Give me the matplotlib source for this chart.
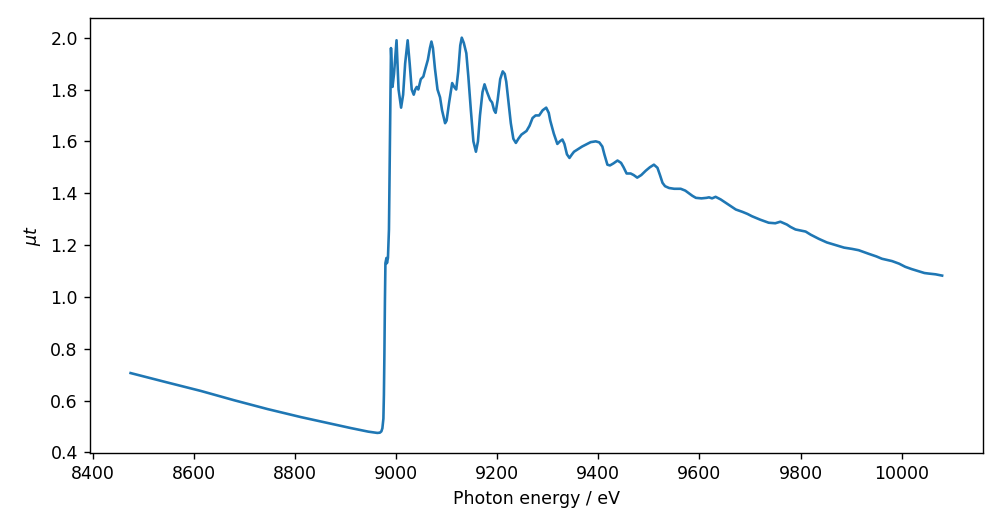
import matplotlib
matplotlib.use('Agg')
import matplotlib.pyplot as plt

# photon energy (eV) and absorbance (mu t)
energy = [
    8475, 8545, 8614, 8680, 8746, 8812, 8877, 8910, 8930, 8945, 8955, 8963,
    8968, 8971, 8973, 8975, 8976, 8977, 8978, 8979, 8981, 8982, 8984, 8986,
    8988, 8990, 8993, 8996, 9001, 9005, 9010, 9014, 9018, 9023, 9027, 9031,
    9035, 9038, 9041, 9044, 9049, 9054, 9058, 9063, 9067, 9070, 9073, 9077,
    9082, 9087, 9091, 9097, 9100, 9105, 9111, 9115, 9119, 9123, 9127, 9130,
    9134, 9139, 9143, 9148, 9153, 9158, 9162, 9166, 9171, 9175, 9180, 9186,
    9190, 9194, 9197, 9201, 9206, 9211, 9215, 9218, 9222, 9227, 9232, 9237,
    9242, 9248, 9258, 9264, 9270, 9276, 9283, 9290, 9297, 9302, 9305, 9312,
    9319, 9324, 9329, 9333, 9338, 9343, 9348, 9352, 9360, 9368, 9375, 9385,
    9395, 9402, 9408, 9412, 9418, 9423, 9430, 9438, 9445, 9450, 9456, 9464,
    9470, 9477, 9485, 9494, 9502, 9510, 9517, 9522, 9527, 9532, 9540, 9550,
    9563, 9572, 9579, 9586, 9593, 9604, 9614, 9619, 9625, 9632, 9642, 9652,
    9662, 9672, 9685, 9695, 9704, 9720, 9737, 9750, 9760, 9773, 9780, 9790,
    9800, 9810, 9820, 9836, 9852, 9869, 9886, 9902, 9915, 9935, 9950, 9961,
    9981, 9995, 10007, 10020, 10033, 10045, 10053, 10067, 10080,
]
mu_t = [
    0.706, 0.671, 0.637, 0.601, 0.567, 0.536, 0.508, 0.494, 0.486, 0.480, 0.477, 0.475,
    0.476, 0.481, 0.493, 0.530, 0.620, 0.780, 0.980, 1.130, 1.150, 1.130, 1.150, 1.260,
    1.600, 1.960, 1.810, 1.860, 1.990, 1.800, 1.730, 1.780, 1.900, 1.990, 1.900, 1.800,
    1.780, 1.800, 1.810, 1.800, 1.840, 1.850, 1.880, 1.915, 1.960, 1.985, 1.960, 1.880,
    1.800, 1.770, 1.720, 1.670, 1.680, 1.750, 1.825, 1.810, 1.800, 1.870, 1.970, 2.000,
    1.980, 1.940, 1.850, 1.720, 1.600, 1.560, 1.600, 1.700, 1.790, 1.820, 1.790, 1.760,
    1.750, 1.720, 1.710, 1.760, 1.840, 1.870, 1.860, 1.830, 1.760, 1.670, 1.610, 1.594,
    1.610, 1.626, 1.640, 1.660, 1.690, 1.700, 1.700, 1.720, 1.730, 1.710, 1.680, 1.630,
    1.590, 1.600, 1.607, 1.590, 1.550, 1.536, 1.550, 1.560, 1.570, 1.580, 1.587, 1.597,
    1.600, 1.596, 1.580, 1.550, 1.510, 1.507, 1.515, 1.526, 1.517, 1.500, 1.476, 1.476,
    1.470, 1.460, 1.470, 1.487, 1.500, 1.510, 1.498, 1.470, 1.440, 1.427, 1.420, 1.417,
    1.417, 1.410, 1.400, 1.390, 1.382, 1.380, 1.382, 1.384, 1.380, 1.386, 1.376, 1.363,
    1.350, 1.337, 1.328, 1.320, 1.311, 1.298, 1.286, 1.284, 1.290, 1.279, 1.270, 1.260,
    1.256, 1.252, 1.240, 1.224, 1.210, 1.200, 1.190, 1.185, 1.180, 1.166, 1.156, 1.147,
    1.138, 1.128, 1.116, 1.107, 1.099, 1.092, 1.090, 1.087, 1.082,
]

fig = plt.figure(figsize=(8, 4.216), dpi=125)
ax = fig.add_axes([0.09, 0.141, 0.8927, 0.825])
ax.plot(energy, mu_t, color='#1f77b4', linewidth=1.5)
ax.set_xlabel('Photon energy / eV')
ax.set_ylabel(r'$\mu t$')

fig.savefig('out.png', dpi=125)
